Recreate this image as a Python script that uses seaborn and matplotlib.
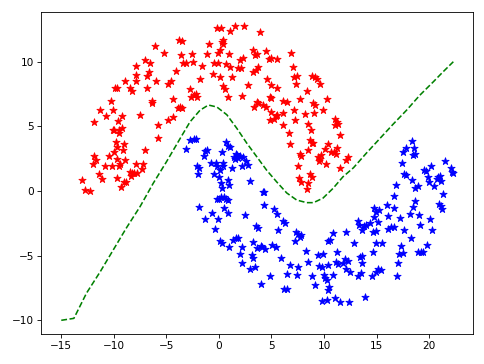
import matplotlib
matplotlib.use("Agg")
import matplotlib.pyplot as plt
import seaborn as sns
import pandas as pd

red_x = [-13.0, -12.7, -12.3, -11.85, -11.9, -12.0, -11.7, -11.3, -11.4, -11.1, -10.7, -10.8, -10.5, -10.3,
         -10.1, -10.1, -9.9, -9.7, -9.95, -9.95, -9.8, -9.7, -10.2, -9.6, -9.5, -9.5, -9.2, -9.2, -9.7, -9.7,
         -9.4, -9.5, -9.3, -9.0, -8.8, -9.0, -9.1, -8.9, -8.9, -8.5, -8.3, -8.5, -8.3, -8.4, -8.1, -7.85,
         -7.8, -7.5, -7.85, -7.85, -7.85, -7.35, -7.2, -7.0, -6.85, -6.85, -6.7, -6.6, -7.0, -6.4, -6.4,
         -6.05, -6.0, -5.8, -5.75, -5.2, -4.8, -4.6, -4.8, -4.4, -4.4, -4.1, -3.9, -3.7, -3.55, -3.8, -3.55,
         -3.6, -3.4, -3.1, -2.75, -2.7, -2.6, -2.5, -2.35, -2.2, -2.1, -1.8, -1.6, -1.1, -0.9, -0.6, -0.45,
         -0.06, -0.15, 0.2, -0.06, 0.1, 0.25, 0.4, 0.35, 0.1, 0.35, 0.55, 0.9, 1.0, 0.7, 1.05, 1.1, 1.25,
         1.55, 1.85, 2.0, 2.1, 2.3, 2.4, 2.15, 2.8, 3.25, 3.4, 3.6, 3.25, 3.5, 3.7, 3.9, 3.3, 3.6, 3.7,
         4.2, 4.45, 4.5, 4.6, 4.8, 5.0, 5.0, 4.85, 4.95, 5.0, 4.85, 5.2, 5.4, 5.5, 5.55, 5.55, 6.05, 6.1,
         6.1, 6.5, 6.7, 6.75, 6.9, 7.0, 7.15, 7.4, 7.15, 7.2, 7.3, 7.7, 7.75, 7.85, 7.5, 7.65, 7.8, 8.2,
         8.35, 8.45, 8.5, 8.4, 8.5, 8.65, 8.85, 8.8, 8.9, 9.1, 9.3, 8.95, 9.1, 9.05, 8.65, 8.85, 8.95,
         9.45, 9.65, 9.55, 9.75, 9.65, 9.9, 10.1, 10.25, 10.2, 10.4, 10.7, 10.95, 11.05, 11.2, 11.05, 11.3,
         11.2, 11.1, 11.5, 11.5, 12.1, 12.3]
red_y = [0.85, 0.08, 0.03, 5.3, 2.7, 2.1, 2.4, 6.3, 1.3, 0.9, 5.8, 1.9, 2.7, 7.0,
         6.3, 4.7, 8.0, 8.0, 4.7, 3.0, 3.8, 3.4, 1.9, 5.4, 4.7, 4.5, 4.85, 5.8, 2.5, 1.0,
         2.1, 1.9, 0.3, 0.7, 0.7, 3.6, 3.2, 2.4, 8.5, 8.0, 7.7, 1.5, 1.4, 1.2, 1.4, 2.1,
         1.4, 5.9, 8.5, 9.0, 9.7, 1.7, 2.1, 10.1, 8.9, 8.0, 9.2, 9.9, 3.2, 7.0, 6.8,
         11.2, 8.5, 4.1, 5.1, 10.7, 8.25, 8.5, 5.5, 5.75, 7.1, 9.3, 6.4, 6.5, 6.45, 11.7, 11.6,
         10.5, 9.9, 9.9, 7.9, 7.3, 10.6, 10.0, 7.4, 7.5, 7.3, 8.7, 9.7, 10.6, 11.4, 9.05, 9.9,
         9.9, 12.6, 12.6, 10.7, 10.9, 11.5, 11.7, 11.4, 8.85, 8.1, 7.9, 7.3, 10.6, 9.8, 12.4, 9.6, 8.85,
         12.75, 9.5, 10.1, 9.5, 10.3, 12.75, 7.35, 8.2, 10.9, 10.5, 10.6, 9.2, 9.35, 9.6, 12.3, 6.5, 6.9, 6.8,
         6.65, 6.5, 10.8, 8.65, 10.25, 8.2, 10.3, 7.3, 7.2, 6.1, 5.5, 5.6, 5.8, 10.2, 8.0, 5.9, 5.1, 6.0,
         7.0, 6.9, 4.5, 3.6, 10.7, 9.6, 8.85, 8.9, 6.3, 5.5, 8.3, 7.1, 2.85, 2.7, 1.9, 1.0, 0.7, 5.95,
         7.75, 5.2, 3.2, 0.15, 0.6, 1.35, 1.1, 4.75, 8.9, 8.8, 8.7, 6.8, 6.65, 6.0, 3.95, 3.75, 3.7,
         2.65, 2.45, 2.3, 2.8, 8.25, 6.25, 3.25, 7.15, 2.1, 3.65, 3.05, 3.05, 5.55, 5.3, 5.1, 5.2,
         3.3, 2.9, 4.3, 1.75, 2.4, 2.6]

blue_x = [-3.1, -2.75, -2.4, -2.2, -2.05, -1.85, -2.0, -1.85, -1.3, -1.1, -1.4, -1.3, -0.8, -0.7, -0.5,
          -0.35, -0.3, -0.2, -0.15, -0.1, 0.0, 0.0, 0.1, 0.15, 0.25, 0.2, 0.3, 0.35, 0.4, 0.5, 0.1, 0.3,
          0.5, 0.65, 0.7, 0.9, 0.9, 1.0, 0.9, 1.05, 0.9, 1.0, 1.2, 1.45, 1.5, 1.6, 1.75, 1.85, 2.0, 2.25,
          1.35, 1.6, 1.8, 2.15, 2.2, 2.05, 2.15, 2.45, 2.6, 2.8, 3.0, 3.0, 3.15, 3.25, 3.25, 3.4, 3.5, 3.7,
          3.6, 4.0, 4.1, 4.0, 4.2, 4.3, 4.3, 4.35, 4.9, 5.05, 5.2, 5.4, 5.55, 5.6, 5.9, 6.1, 6.3, 6.2,
          6.45, 6.5, 6.8, 7.2, 7.3, 7.4, 7.55, 7.7, 7.85, 7.55, 8.25, 8.5, 8.85, 9.15, 9.45, 9.5, 9.8,
          9.8, 9.9, 10.0, 10.1, 10.25, 10.3, 10.4, 10.5, 10.4, 10.35, 10.55, 10.85, 10.85, 11.05, 11.15,
          11.25, 11.3, 11.5, 11.8, 11.95, 12.1, 12.3, 12.1, 12.35, 12.45, 12.85, 13.2, 13.25, 13.35, 13.4,
          13.5, 13.6, 13.65, 13.65, 13.8, 13.9, 14.0, 14.35, 14.6, 14.65, 14.7, 14.9, 14.75, 14.8, 14.95,
          14.95, 15.15, 15.25, 14.9, 15.15, 15.45, 15.55, 15.95, 16.1, 16.1, 16.4, 16.65, 16.65, 16.7,
          16.8, 16.9, 17.05, 17.15, 17.2, 17.3, 17.45, 17.5, 17.55, 17.65, 17.75, 17.8, 17.65, 18.15,
          18.3, 18.35, 18.4, 18.45, 18.55, 18.65, 18.45, 18.65, 18.7, 18.95, 18.95, 19.05, 19.1, 19.2,
          19.45, 19.55, 19.7, 19.75, 19.9, 20.0, 20.05, 20.15, 20.3, 20.45, 20.7, 20.85, 20.95, 21.0,
          21.1, 21.15, 21.25, 21.35, 21.5, 22.05, 22.2, 22.3]
blue_y = [3.25, 3.95, 4.0, 4.0, 1.95, 1.75, 1.3, -1.2, 3.1, 3.2, 2.7, -2.2, 2.2, -1.7, 1.3,
          -2.95, 2.2, 1.95, -0.6, -2.15, 1.1, -0.65, 1.6, 0.6, 0.2, -0.5, 3.05, 2.15, 1.9, -0.45, -3.85, -4.05,
          -1.35, 3.8, -0.6, -0.7, 0.85, 0.45, 3.5, 3.4, -1.7, -4.3, 1.75, 2.65, 2.5, 2.9, 2.75, 2.55, 2.7, 2.65,
          -3.8, -3.65, -3.6, 1.9, -4.35, -4.85, -5.6, -1.85, 2.35, 2.0, 0.75, -6.0, -4.95, -3.95, -5.2, -5.85, -2.7, -2.85,
          -4.4, -4.25, -4.35, -7.2, -0.05, -0.1, -1.05, -4.45, -6.55, -4.2, -1.4, -4.3, -1.75, -3.05, -5.2, -2.3, -2.45, -7.6,
          -6.4, -7.55, -5.75, -3.85, -3.2, -6.5, -3.3, -3.55, -3.4, -5.9, -4.65, -5.5, -6.55, -7.25, -4.95, -5.8, -8.5,
          -5.9, -4.85, -6.5, -6.7, -6.9, -8.45, -3.9, -7.4, -7.65, -5.7, -3.8, -3.25, -6.5, -8.3, -5.5,
          -4.75, -5.65, -8.6, -5.6, -5.25, -3.15, -5.45, -6.05, -8.55, -6.25, -4.05, -6.6, -2.35, -2.6, -5.1,
          -6.35, -3.0, -5.05, -5.6, -2.7, -8.2, -2.6, -2.5, -6.6, -4.7, -3.15, -3.1, -1.35, -2.0, -1.6,
          -4.05, -2.4, -1.5, -6.25, -6.05, -6.1, -4.05, -1.1, -1.95, -2.9, -2.75, -2.75, -0.35, -1.35,
          0.45, -6.55, -5.55, -4.85, -2.1, -4.25, 2.2, 3.05, -4.8, 1.35, 3.3, 1.25, -3.0, -1.8,
          -3.65, 0.85, 3.85, 2.8, 3.35, 2.9, -1.2, -0.8, 0.25, 0.4, -4.75, -1.85, -2.65, -4.75,
          -4.75, 1.65, 1.55, -4.2, 1.1, 0.7, -2.15, 1.95, -3.0, 0.4, 0.95, 1.1, -1.0, 1.15,
          0.8, -1.15, -1.4, -0.2, 2.3, 1.75, 1.5, 1.4]

boundary_x = [-15.0, -13.8, -12.6, -11.3, -10.05, -8.8, -7.5, -6.25, -5.0, -3.7, -2.75, -1.8, -1.0, -0.2,
              0.75, 1.7, 2.65, 3.6, 4.55, 5.5, 6.45, 7.4, 8.35, 9.0, 9.9, 10.85, 11.8, 12.8, 14.05, 15.3,
              16.55, 17.85, 19.1, 20.4, 21.3, 22.3]
boundary_y = [-10.0, -9.85, -7.9, -6.25, -4.55, -2.85, -1.2, 0.6, 2.25, 4.05, 5.35, 6.25, 6.65, 6.5,
              5.9, 4.85, 3.7, 2.65, 1.6, 0.7, -0.15, -0.7, -0.9, -0.9, -0.55, 0.2, 1.1, 1.8, 2.95, 4.05,
              5.15, 6.25, 7.4, 8.45, 9.2, 10.0]

red_df = pd.DataFrame({"x": red_x, "y": red_y})
blue_df = pd.DataFrame({"x": blue_x, "y": blue_y})
line_df = pd.DataFrame({"x": boundary_x, "y": boundary_y})

s = 0.756
plt.rcParams.update({
    "font.size": 10 * s,
    "axes.linewidth": 0.8 * s,
    "xtick.major.size": 3.5 * s,
    "ytick.major.size": 3.5 * s,
    "xtick.major.width": 0.8 * s,
    "ytick.major.width": 0.8 * s,
    "xtick.major.pad": 3.5 * s,
    "ytick.major.pad": 3.5 * s,
})

fig = plt.figure(figsize=(4.84, 3.64), dpi=100)
ax = fig.add_axes([41.3 / 484, 30.0 / 364, 432.0 / 484, 322.3 / 364])

sns.scatterplot(data=red_df, x="x", y="y", marker="*", color="red", s=30,
                edgecolor="red", linewidth=0.6, ax=ax, zorder=3)
sns.scatterplot(data=blue_df, x="x", y="y", marker="*", color="blue", s=30,
                edgecolor="blue", linewidth=0.6, ax=ax, zorder=3)
sns.lineplot(data=line_df, x="x", y="y", sort=False, color="green",
             linestyle="--", linewidth=1.5 * s, ax=ax, zorder=2)

ax.set_xlim(-16.9, 24.2)
ax.set_ylim(-11.06, 13.87)
ax.set_xticks([-15, -10, -5, 0, 5, 10, 15, 20])
ax.set_yticks([-10, -5, 0, 5, 10])
ax.set_xlabel("")
ax.set_ylabel("")

fig.savefig("out.png", dpi=100)
